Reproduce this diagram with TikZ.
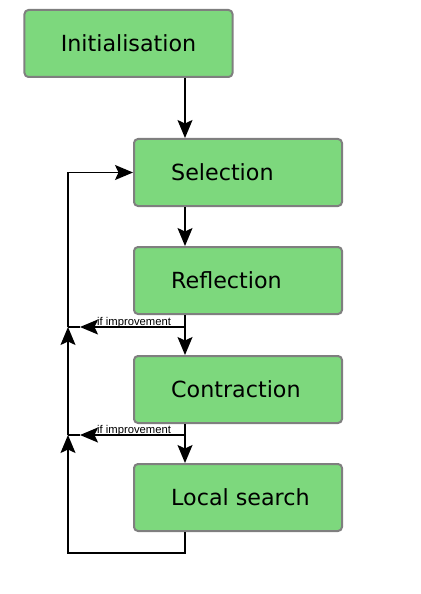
\documentclass[tikz,border=0pt]{standalone}
\usepackage{fontspec}
\setmainfont{DejaVu Sans}
\newfontfamily\notefont{Liberation Sans}
\usetikzlibrary{arrows.meta}
\definecolor{boxfill}{HTML}{7DD87D}
\definecolor{boxline}{HTML}{7F7F7F}
\tikzset{arrhead/.tip={Stealth[length=18bp,width=15bp,inset=3.5bp]}}
\begin{document}
\begin{tikzpicture}[x=1bp,y=-1bp,
 box/.style={draw=boxline, line width=2bp, fill=boxfill, rounded corners=4bp, minimum width=208bp, minimum height=67bp, inner sep=0pt, font=\fontsize{22.3}{26}\selectfont},
 lbl/.style={font=\fontsize{22.3}{26}\selectfont, inner sep=0pt, anchor=west},
 conn/.style={line width=1.5bp, draw=black},
 arr/.style={conn, -arrhead},
 note/.style={font=\notefont\fontsize{11.3}{13}\selectfont, inner sep=0pt, anchor=base west}]
\useasboundingbox (0,0) rectangle (420,594);
\node[box] (init) at (128.5,43.5) {Initialisation};
\node[box] (sel) at (238,172.5) {};
\node[box] (refl) at (238,280.5) {};
\node[box] (contr) at (238,389.5) {};
\node[box] (ls) at (238,497.5) {};
\node[lbl] (tsel) at ([xshift=38bp]sel.west) {Selection};
\node[lbl] (trefl) at ([xshift=38bp]refl.west) {Reflection};
\node[lbl] (tcontr) at ([xshift=38bp]contr.west) {Contraction};
\node[lbl] (tls) at ([xshift=38bp]ls.west) {Local search};
\coordinate (col) at (185,0);
\coordinate (lft) at (68,0);
\coordinate (h1) at (185,327);
\coordinate (t1) at (80,327);
\coordinate (j1) at (68,327);
\coordinate (h2) at (185,435);
\coordinate (t2) at (80,435);
\coordinate (j2) at (68,435);
\coordinate (b1) at (185,553);
\coordinate (bot) at (68,553);
\coordinate (c1) at (sel.west -| lft);
\draw[arr] (init.south -| col) -- (sel.north -| col);
\draw[arr] (sel.south -| col) -- (refl.north -| col);
\draw[arr] (refl.south -| col) -- (contr.north -| col);
\draw[arr] (contr.south -| col) -- (ls.north -| col);
\draw[arr] (h1) -- (t1);
\draw[conn] (t1) -- (j1);
\draw[arr] (h2) -- (t2);
\draw[conn] (t2) -- (j2);
\node[note] (n1) at (97,325) {if improvement};
\node[note] (n2) at (97,433) {if improvement};
\draw[arr] (ls.south -| col) -- (b1) -- (bot) -- (j2);
\draw[arr] (j2) -- (j1);
\draw[arr] (j1) -- (c1) -- (sel.west);
\end{tikzpicture}
\end{document}
